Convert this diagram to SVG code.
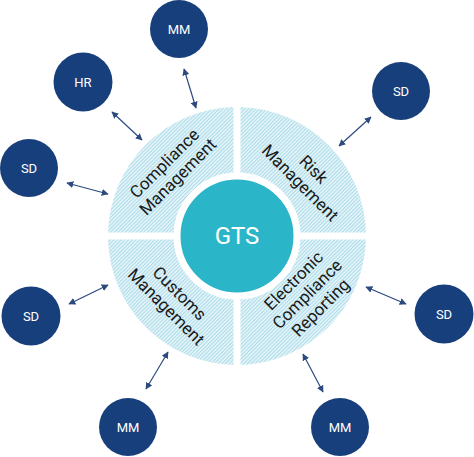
<svg xmlns="http://www.w3.org/2000/svg" width="474" height="457" viewBox="0 0 474 457">
<style>
.node{fill:#173f7c}
.nl{fill:#ffffff;font-family:Roboto,"Liberation Sans",sans-serif;font-size:13px;text-anchor:middle;dominant-baseline:central}
.ql{fill:#1a1a1a;font-family:Roboto,"Liberation Sans",sans-serif;font-size:17px;text-anchor:middle;dominant-baseline:central}
.quad{fill:url(#hatch)}
.conn{stroke:#2c4a7e;stroke-width:1.2;fill:none;marker-start:url(#ah);marker-end:url(#ah)}
</style>
<defs>
<pattern id="hatch" width="2.6" height="2.6" patternUnits="userSpaceOnUse" patternTransform="rotate(45)">
<rect width="2.6" height="2.6" fill="#e8f6fa"/>
<rect width="1.1" height="2.6" fill="#acdbe8"/>
</pattern>
<marker id="ah" viewBox="0 0 10 10" refX="9" refY="5" markerWidth="7" markerHeight="7" markerUnits="userSpaceOnUse" orient="auto-start-reverse">
<path d="M0,0 L10,5 L0,10 Z" fill="#2c4a7e"/>
</marker>
</defs>
<rect width="474" height="457" fill="#ffffff"/>
<g id="ring">
<g id="q-compliance">
<path class="quad" d="M233.5,232.5 L233.5,107.05 A129,129 0 0 0 108.05,232.5 Z"/>
<text class="ql" transform="translate(171,170) rotate(-45)"><tspan x="0" y="-9.5">Compliance</tspan><tspan x="0" y="9.5">Management</tspan></text>
</g>
<g id="q-risk">
<path class="quad" d="M240.5,232.5 L365.95,232.5 A129,129 0 0 0 240.5,107.05 Z"/>
<text class="ql" transform="translate(307,176) rotate(45)"><tspan x="0" y="-9.5">Risk</tspan><tspan x="0" y="9.5">Management</tspan></text>
</g>
<g id="q-customs">
<path class="quad" d="M233.5,239.5 L108.05,239.5 A129,129 0 0 0 233.5,364.95 Z"/>
<text class="ql" transform="translate(173,300) rotate(45)"><tspan x="0" y="-9.5">Customs</tspan><tspan x="0" y="9.5">Management</tspan></text>
</g>
<g id="q-ecr">
<path class="quad" d="M240.5,239.5 L240.5,364.95 A129,129 0 0 0 365.95,239.5 Z"/>
<text class="ql" transform="translate(307,294) rotate(-45)"><tspan x="0" y="-19">Electronic</tspan><tspan x="0" y="0">Compliance</tspan><tspan x="0" y="19">Reporting</tspan></text>
</g>
</g>
<g id="gts">
<circle cx="237" cy="236" r="60" fill="#2bb5c8" stroke="#ffffff" stroke-width="7"/>
<text x="237" y="236" fill="#ffffff" font-family="Roboto,'Liberation Sans',sans-serif" font-size="24" text-anchor="middle" dominant-baseline="central">GTS</text>
</g>
<g id="connectors">
<line class="conn" x1="184" y1="69" x2="196" y2="108"/>
<line class="conn" x1="112" y1="112" x2="142" y2="140"/>
<line class="conn" x1="67" y1="183" x2="108" y2="194"/>
<line class="conn" x1="371" y1="117" x2="339" y2="146"/>
<line class="conn" x1="69" y1="304" x2="108" y2="285"/>
<line class="conn" x1="168" y1="352" x2="146" y2="389"/>
<line class="conn" x1="366" y1="287" x2="406" y2="304"/>
<line class="conn" x1="303" y1="354" x2="323" y2="392"/>
</g>
<g id="n-mm-top"><circle class="node" cx="179" cy="29" r="29"/><text class="nl" x="179" y="29">MM</text></g>
<g id="n-hr"><circle class="node" cx="83" cy="82" r="29.5"/><text class="nl" x="83" y="82">HR</text></g>
<g id="n-sd-left"><circle class="node" cx="29" cy="168" r="29"/><text class="nl" x="29" y="168">SD</text></g>
<g id="n-sd-right-top"><circle class="node" cx="401" cy="91" r="29"/><text class="nl" x="401" y="91">SD</text></g>
<g id="n-sd-left-bottom"><circle class="node" cx="31" cy="316" r="29.5"/><text class="nl" x="31" y="316">SD</text></g>
<g id="n-mm-bl"><circle class="node" cx="128" cy="427" r="29"/><text class="nl" x="128" y="427">MM</text></g>
<g id="n-sd-right-bottom"><circle class="node" cx="444" cy="314" r="29.5"/><text class="nl" x="444" y="314">SD</text></g>
<g id="n-mm-br"><circle class="node" cx="340" cy="427" r="29"/><text class="nl" x="340" y="427">MM</text></g>
</svg>
